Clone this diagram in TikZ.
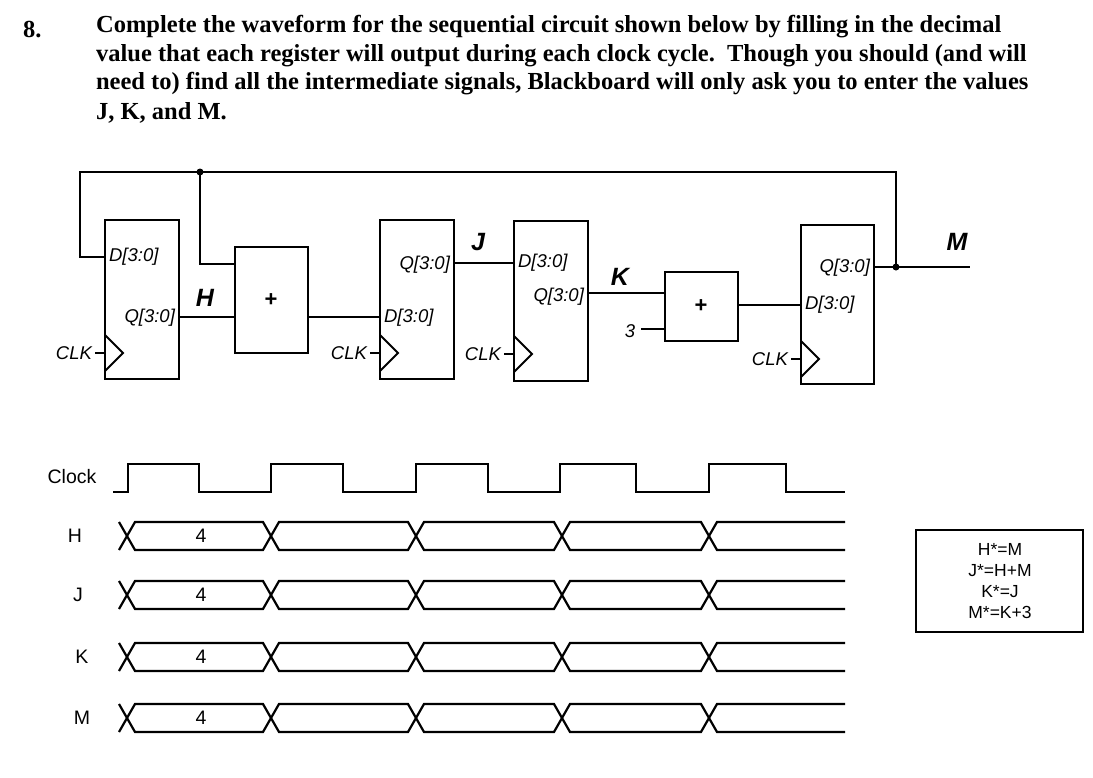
\documentclass[tikz,border=0pt]{standalone}
\usepackage{fontspec}
\setmainfont{Liberation Serif}
\newfontfamily\arial{Liberation Sans}
\begin{document}
\begin{tikzpicture}[x=1pt,y=-1pt,line width=2.2pt,
  lbl/.style={font=\arial\itshape\fontsize{18.5}{20}\selectfont,inner sep=1pt},
  sig/.style={font=\arial\bfseries\itshape\fontsize{25}{27}\selectfont,inner sep=0pt},
  plain/.style={font=\arial\fontsize{19.5}{21}\selectfont,inner sep=0pt},
  ttl/.style={font=\bfseries\fontsize{24.5}{26}\selectfont,anchor=west,inner sep=0pt},
  box/.style={draw,line width=2.2pt},
  dot/.style={circle,fill,inner sep=0pt,minimum size=7pt}]
\useasboundingbox (0,0) rectangle (1093,777);
% title
\node[ttl] (n8) at (22,30) {8.};
\node[ttl] (t1) at (95,27) {Complete the waveform for the sequential circuit shown below by filling in the decimal};
\node[ttl] (t2) at (95,56) {value that each register will output during each clock cycle.\ \ Though you should (and will};
\node[ttl] (t3) at (95,84) {need to) find all the intermediate signals, Blackboard will only ask you to enter the values};
\node[ttl] (t4) at (95,113) {J, K, and M.};
% registers
\draw[box] (105,220) rectangle (179,379);
\draw[box] (380,220) rectangle (454,379);
\draw[box] (514,221) rectangle (588,381);
\draw[box] (801,225) rectangle (874,384);
\draw[box] (235,247) rectangle (308,353);
\draw[box] (665,272) rectangle (738,341);
\node[plain,font=\arial\bfseries\fontsize{22}{24}\selectfont] (p1) at (271,300) {+};
\node[plain,font=\arial\bfseries\fontsize{22}{24}\selectfont] (p2) at (701,306) {+};
% clock triangles
\foreach \x/\y in {105/353,380/353,514/354,801/359}{
  \draw[line width=1.8pt] (\x,\y-18) -- (\x+18,\y) -- (\x,\y+18);
  \draw[line width=1.8pt] (\x-10,\y) -- (\x,\y);
}
\node[lbl,anchor=east] (c1) at (94,353) {CLK};
\node[lbl,anchor=east] (c2) at (369,353) {CLK};
\node[lbl,anchor=east] (c3) at (503,354) {CLK};
\node[lbl,anchor=east] (c4) at (790,359) {CLK};
% pin labels
\node[lbl,anchor=west] at (107,257) {D[3:0]};
\node[lbl,anchor=east] at (177,318) {Q[3:0]};
\node[lbl,anchor=east] at (452,265) {Q[3:0]};
\node[lbl,anchor=west] at (382,318) {D[3:0]};
\node[lbl,anchor=west] at (516,263) {D[3:0]};
\node[lbl,anchor=east] at (586,297) {Q[3:0]};
\node[lbl,anchor=east] at (872,268) {Q[3:0]};
\node[lbl,anchor=west] at (803,305) {D[3:0]};
% wires
\coordinate (fb) at (200,172);
\coordinate (mj) at (896,267);
\draw (105,257) -- (80,257) -- (80,172) -- (896,172) -- (mj);
\draw (179,317) -- (235,317);
\draw (fb) -- (200,264) -- (235,264);
\draw (308,317) -- (380,317);
\draw (454,263) -- (514,263);
\draw (588,293) -- (665,293);
\draw[line width=1.8pt] (641,329) -- (665,329);
\draw (738,305) -- (801,305);
\draw (874,267) -- (970,267);
\node[dot] (d1) at (fb) {};
\node[dot] (d2) at (mj) {};
\node[sig] (H) at (205,298) {H};
\node[sig] (J) at (478,242) {J};
\node[sig] (K) at (620,277) {K};
\node[sig] (M) at (957,242) {M};
\node[lbl] (three) at (630,331) {3};
% clock waveform
\node[plain] (clk) at (72,477) {Clock};
\draw (113,492) -- (128,492) -- (128,464) -- (199,464) -- (199,492) -- (271,492) -- (271,464)
  -- (343,464) -- (343,492) -- (416,492) -- (416,464) -- (488,464) -- (488,492) -- (560,492)
  -- (560,464) -- (636,464) -- (636,492) -- (709,492) -- (709,464) -- (786,464) -- (786,492) -- (845,492);
% buses
\foreach \n/\yc/\lx in {H/536/75,J/595/78,K/657/82,M/718/82}{
  \node[plain] at (\lx,\yc) {\n};
  \node[plain] at (201,\yc) {4};
  \foreach \a/\b in {127/271,271/416,416/562,562/709}{
    \draw (\a,\yc) -- (\a+8,\yc-14) -- (\b-8,\yc-14) -- (\b,\yc);
    \draw (\a,\yc) -- (\a+8,\yc+14) -- (\b-8,\yc+14) -- (\b,\yc);
  }
  \draw (119,\yc-14) -- (127,\yc);
  \draw (119,\yc+14) -- (127,\yc);
  \draw (709,\yc) -- (717,\yc-14) -- (845,\yc-14);
  \draw (709,\yc) -- (717,\yc+14) -- (845,\yc+14);
}
% equations box
\draw[line width=1.4pt] (916,530) rectangle (1083,632);
\node[plain,align=center,font=\arial\fontsize{17.5}{21}\selectfont] (eq) at (1000,581) {H*=M\\J*=H+M\\K*=J\\M*=K+3};
\end{tikzpicture}
\end{document}
